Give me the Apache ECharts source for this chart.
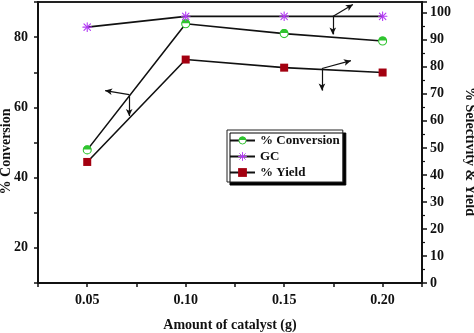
<!DOCTYPE html>
<html>
<head>
<meta charset="utf-8">
<script src="https://cdn.jsdelivr.net/npm/echarts@6/dist/echarts.min.js"></script>
<style>
  html, body { margin: 0; padding: 0; background: #fff; }
  #chart { width: 474px; height: 333px; }
</style>
</head>
<body>
<div id="chart"></div>
<script>
// Catalyst loading (g)
const catalystAmount = [0.05, 0.10, 0.15, 0.20];
// % Conversion (left axis)
const conversion = [47.9, 83.8, 81.0, 78.9];
// GC selectivity, % (right axis)
const gcSelectivity = [94.7, 98.7, 98.7, 98.7];
// % Yield (right axis)
const yieldPct = [44.8, 82.7, 79.7, 77.9];

// Tick labels
const xTickLabels = ['0.05', '0.10', '0.15', '0.20'];
const leftTickLabels = [20, 40, 60, 80];

// Annotation arrows pointing each curve to its axis: [start, end] in (x, right-axis %) units
const arrowNotes = [
  [[0.0713, 69.7], [0.0591, 71.2]],
  [[0.0713, 69.7], [0.0713, 61.8]],
  [[0.1747, 98.6], [0.1849, 103.1]],
  [[0.1747, 98.6], [0.1747, 92.0]],
  [[0.1692, 79.4], [0.1839, 82.3]],
  [[0.1692, 79.4], [0.1692, 71.2]]
];

const GREEN = '#2fc42f';
const PURPLE = '#b43cf5';
const RED = '#a30010';
const FONT = 'Liberation Serif';

const halfCircleSvg =
  '<svg xmlns="http://www.w3.org/2000/svg" width="20" height="20" viewBox="0 0 20 20">' +
  '<circle cx="10" cy="10" r="8" fill="#ffffff" stroke="' + GREEN + '" stroke-width="2.2"/>' +
  '<path d="M2 9 A8 8 0 0 1 18 9 Z" fill="' + GREEN + '"/></svg>';
const asteriskSvg =
  '<svg xmlns="http://www.w3.org/2000/svg" width="20" height="20" viewBox="0 0 20 20">' +
  '<g stroke="' + PURPLE + '" stroke-width="2.2" stroke-linecap="round">' +
  '<line x1="10" y1="1" x2="10" y2="19"/><line x1="1" y1="10" x2="19" y2="10"/>' +
  '<line x1="3.5" y1="3.5" x2="16.5" y2="16.5"/><line x1="16.5" y1="3.5" x2="3.5" y2="16.5"/></g></svg>';
const svgSymbol = s => 'image://data:image/svg+xml;charset=utf-8,' + encodeURIComponent(s);

const pairs = vals => catalystAmount.map((x, i) => [x, vals[i]]);

const labelFont = { fontFamily: FONT, fontWeight: 'bold', fontSize: 14, color: '#111' };

const chart = echarts.init(document.getElementById('chart'), null, { renderer: 'canvas' });

chart.setOption({
  animation: false,
  backgroundColor: '#ffffff',
  grid: {
    left: 38, right: 52, top: 2, bottom: 50,
    containLabel: false, outerBoundsMode: 'none',
    show: true, borderColor: '#222', borderWidth: 2, backgroundColor: 'transparent'
  },
  legend: {
    orient: 'vertical',
    left: 227, top: 130,
    padding: [4, 3, 3, 2],
    itemWidth: 25, itemHeight: 11, itemGap: 3,
    backgroundColor: '#ffffff',
    borderColor: '#222', borderWidth: 1,
    shadowColor: '#000', shadowBlur: 0, shadowOffsetX: 3, shadowOffsetY: 3,
    textStyle: { fontFamily: FONT, fontWeight: 'bold', fontSize: 13, color: '#111' },
    data: ['% Conversion', 'GC', '% Yield']
  },
  xAxis: {
    type: 'value',
    min: 0.025, max: 0.22, interval: 0.025,
    name: 'Amount of catalyst (g)',
    nameLocation: 'middle', nameGap: 35, nameMoveOverlap: false,
    nameTextStyle: labelFont,
    axisLine: { lineStyle: { color: '#111', width: 2 } },
    axisTick: { inside: false, length: 4, lineStyle: { color: '#111', width: 1.5 } },
    splitLine: { show: false },
    axisLabel: Object.assign({}, labelFont, {
      margin: 10,
      formatter: v => {
        const k = Math.round(v / 0.05);
        return Math.abs(v / 0.05 - k) < 1e-6 && k >= 1 && k <= xTickLabels.length ? xTickLabels[k - 1] : '';
      }
    })
  },
  yAxis: [
    {
      type: 'value', position: 'left',
      min: 10, max: 90, interval: 10,
      name: '% Conversion',
      nameLocation: 'middle', nameGap: 25, nameMoveOverlap: false,
      nameTextStyle: Object.assign({}, labelFont, { padding: [0, 18, 0, 0] }),
      axisLine: { show: true, lineStyle: { color: '#111', width: 2 } },
      axisTick: { show: true, length: 4, lineStyle: { color: '#111', width: 1.5 } },
      splitLine: { show: false },
      axisLabel: Object.assign({}, labelFont, {
        margin: 10,
        formatter: v => (leftTickLabels.indexOf(v) >= 0 ? String(v) : '')
      })
    },
    {
      type: 'value', position: 'right',
      min: 0, max: 104, interval: 10,
      name: '% Selectivity & Yield',
      nameLocation: 'middle', nameGap: 41, nameRotate: -90, nameMoveOverlap: false,
      nameTextStyle: Object.assign({}, labelFont, { padding: [0, 0, 0, 18] }),
      axisLine: { show: true, lineStyle: { color: '#111', width: 2 } },
      axisTick: { show: true, length: 5, lineStyle: { color: '#111', width: 1.5 } },
      minorTick: { show: true, splitNumber: 2, length: 3, lineStyle: { color: '#111', width: 1.2 } },
      splitLine: { show: false },
      axisLabel: Object.assign({}, labelFont, { margin: 8 })
    }
  ],
  series: [
    {
      name: '% Conversion', type: 'line', yAxisIndex: 0,
      data: pairs(conversion),
      symbol: svgSymbol(halfCircleSvg), symbolSize: 10,
      lineStyle: { color: '#111', width: 1.6 },
      itemStyle: { color: GREEN },
      z: 3
    },
    {
      name: 'GC', type: 'line', yAxisIndex: 1,
      data: pairs(gcSelectivity),
      symbol: svgSymbol(asteriskSvg), symbolSize: 10,
      lineStyle: { color: '#111', width: 1.8 },
      itemStyle: { color: PURPLE },
      z: 3
    },
    {
      name: '% Yield', type: 'line', yAxisIndex: 1,
      data: pairs(yieldPct),
      symbol: 'rect', symbolSize: 8,
      lineStyle: { color: '#111', width: 1.6 },
      itemStyle: { color: RED },
      z: 3,
      markLine: {
        silent: true,
        symbol: ['none', 'arrow'],
        symbolSize: [5, 7],
        label: { show: false },
        lineStyle: { color: '#111', width: 1.2, type: 'solid' },
        emphasis: { disabled: true },
        data: arrowNotes.map(([a, b]) => [{ coord: a }, { coord: b }])
      }
    }
  ]
});
</script>
</body>
</html>
